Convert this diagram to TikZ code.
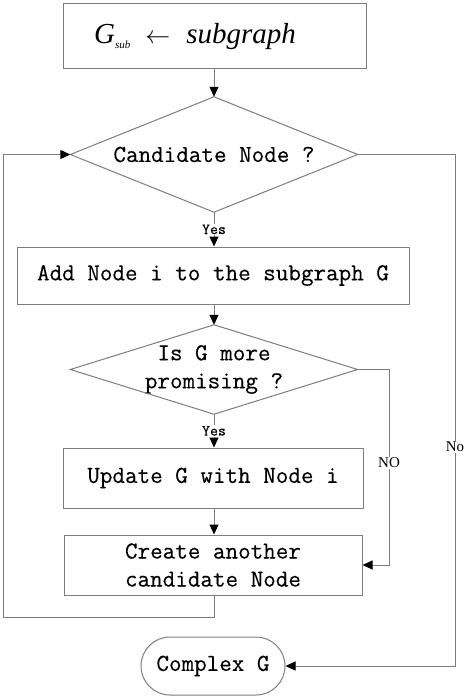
\documentclass[tikz,border=0pt]{standalone}
\usepackage{fontspec}
\setmainfont{Liberation Serif}
\setmonofont{Latin Modern Mono}[FakeBold=0.3]
\usetikzlibrary{arrows.meta}
\definecolor{ln}{RGB}{125,125,125}
\tikzset{
  box/.style={draw=ln, line width=1pt, inner sep=0pt, align=center,
    font=\fontsize{24.4}{28}\selectfont\ttfamily},
  hid/.style={inner sep=0pt, align=center,
    font=\fontsize{24.4}{28}\selectfont\ttfamily},
  conn/.style={draw=ln, line width=1pt,
    -{Triangle[length=10pt,width=9pt,color=black]}},
  plain/.style={draw=ln, line width=1pt},
  yeslab/.style={fill=white, inner sep=1pt, font=\fontsize{15.5}{15.5}\selectfont\ttfamily},
  nolab/.style={fill=white, inner sep=1pt, font=\fontsize{15}{15}\selectfont},
}
\begin{document}
\begin{tikzpicture}[x=1pt,y=-1pt]
\useasboundingbox (0,0) rectangle (474,697);
\fill[white] (0,0) rectangle (474,697);

% nodes
\node[box, minimum width=303pt, minimum height=65pt] (b1) at (214.5,35.5) {};
\node[anchor=base west, inner sep=0pt] (t1) at (94,43)
  {\fontsize{29}{30}\selectfont\itshape G\raisebox{-5pt}{\fontsize{11}{11}\selectfont sub}\hspace{15pt}$\leftarrow$\hspace{16pt}subgraph};

\node[hid, minimum width=287pt, minimum height=115pt] (d1) at (214,154.5) {Candidate Node ?};
\draw[plain] (d1.north) -- (d1.east) -- (d1.south) -- (d1.west) -- cycle;

\node[box, minimum width=392pt, minimum height=57pt] (b2) at (213,275.5) {Add Node i to the subgraph G};

\node[hid, minimum width=287pt, minimum height=89pt] (d2) at (214,369.5) {Is G more\\promising ?};
\draw[plain] (d2.north) -- (d2.east) -- (d2.south) -- (d2.west) -- cycle;

\node[box, minimum width=300pt, minimum height=60pt] (b3) at (213,478) {Update G with Node i};
\node[box, minimum width=298pt, minimum height=60pt] (b4) at (213,565) {Create another\\candidate Node};
\node[box, rounded corners=29pt, minimum width=144pt, minimum height=58pt] (term) at (213,666) {Complex G};

% connectors
\draw[conn] (b1.south -| d1.north) -- (d1.north);
\draw[conn] (d1.south) -- node[yeslab] {Yes} (d1.south |- b2.north);
\draw[conn] (d1.south |- b2.south) -- (d2.north);
\draw[conn] (d2.south) -- node[yeslab] {Yes} (d2.south |- b3.north);
\draw[conn] (d2.south |- b3.south) -- (d2.south |- b4.north);

\coordinate (lp1) at (3,617);
\draw[conn] (d2.south |- b4.south) |- (lp1) |- (d1.west);

\coordinate (n1) at (389,369.5);
\draw[conn] (d2.east) -- (n1) |- (b4.east);
\node[nolab] (nolabel) at (389,463) {NO};

\coordinate (m1) at (455,154.5);
\draw[conn] (d1.east) -- (m1) |- (term.east);
\node[nolab] (nolabel2) at (455,447) {No};
\end{tikzpicture}
\end{document}
